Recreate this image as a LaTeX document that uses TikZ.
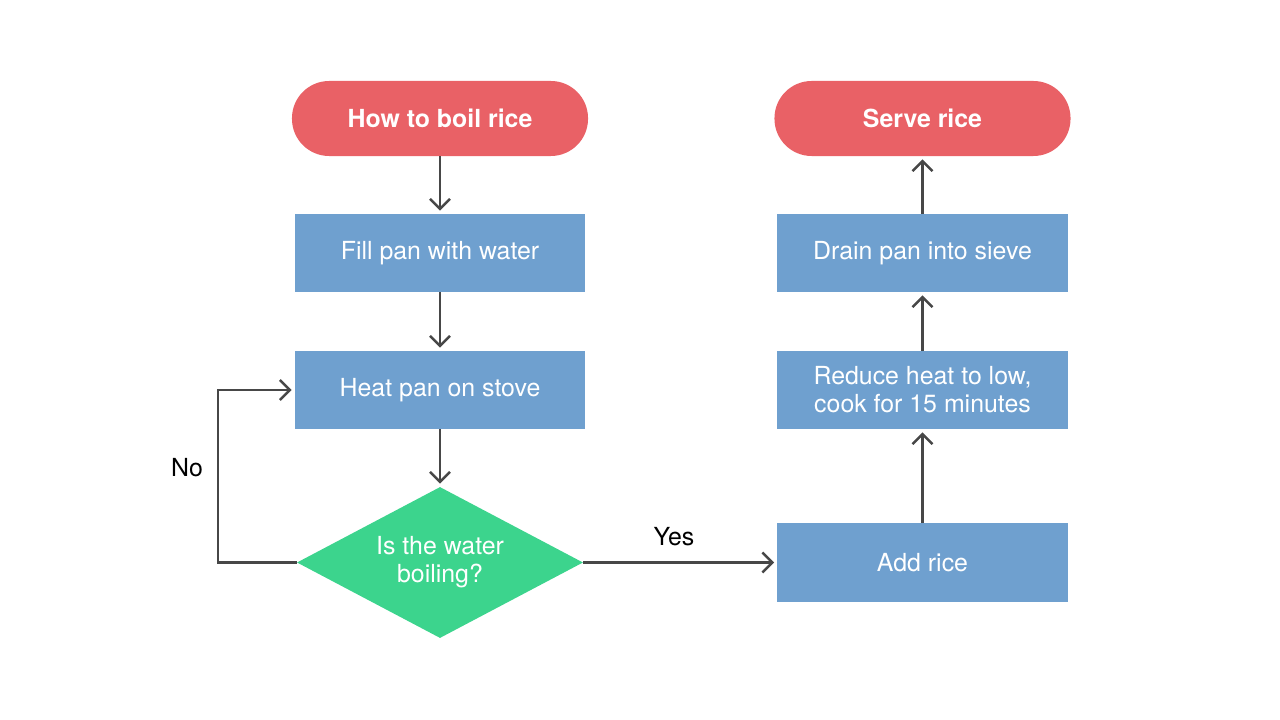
\documentclass[tikz,border=0pt]{standalone}
\usepackage{fontspec}
\setmainfont{TeX Gyre Heros}
\usetikzlibrary{arrows.meta}
\usetikzlibrary{shapes.geometric}
\definecolor{termred}{HTML}{E96166}
\definecolor{stepblue}{HTML}{6FA0CF}
\definecolor{askgreen}{HTML}{3CD48D}
\definecolor{flowgray}{HTML}{474747}
\tikzset{
      terminal/.style={fill=termred, text=white, font=\fontsize{17.7pt}{20pt}\selectfont\bfseries,
            minimum width=7.4cm, minimum height=1.875cm, rounded corners=0.93cm, inner sep=0},
      stepbox/.style={fill=stepblue, text=white, font=\fontsize{17.7pt}{19.8pt}\selectfont,
            minimum width=7.25cm, minimum height=1.95cm, align=center, inner sep=0},
      decision/.style={diamond, aspect=1.9, fill=askgreen, text=white, font=\fontsize{17.7pt}{19.8pt}\selectfont,
            minimum width=7.15cm, minimum height=3.775cm, align=center, inner sep=0},
      answer/.style={text=black, font=\fontsize{17.7pt}{19.8pt}\selectfont, inner sep=0},
      flow/.style={draw=flowgray, line width=0.0625cm, shorten >=0.075cm,
            -{Straight Barb[length=0.25cm, width=0.5cm]}},
}
\begin{document}
\begin{tikzpicture}[x=0.025cm, y=-0.025cm]
        \useasboundingbox (0,0) rectangle (1280,720);

        % Left column
        \node[terminal] (start) at (440,118.5) {How to boil rice};
        \node[stepbox] (fill) at (440,253) {Fill pan with water};
        \node[stepbox] (heat) at (440,390) {Heat pan on stove};
        \node[decision] (ask) at (440,562.5) {Is the water\\boiling?};

        % Right column
        \node[stepbox] (add) at (922.5,562.5) {Add rice};
        \node[stepbox] (reduce) at (922.5,390) {Reduce heat to low,\\cook for 15 minutes};
        \node[stepbox] (drain) at (922.5,253) {Drain pan into sieve};
        \node[terminal] (serve) at (922.5,118.5) {Serve rice};

        % Answers
        \node[answer] (no) at (187,468) {No};
        \node[answer] (yes) at (674,537) {Yes};
        \coordinate (noturn) at (218,562.5);

        % Draw the flow
        \draw[flow] (start) -- (fill);
        \draw[flow] (fill) -- (heat);
        \draw[flow] (heat) -- (ask);
        \draw[flow] (ask.west) -- (noturn) |- (heat.west);
        \draw[flow] (ask.east) -- (add.west);
        \draw[flow] (add) -- (reduce);
        \draw[flow] (reduce) -- (drain);
        \draw[flow] (drain) -- (serve);

    \end{tikzpicture}
\end{document}
